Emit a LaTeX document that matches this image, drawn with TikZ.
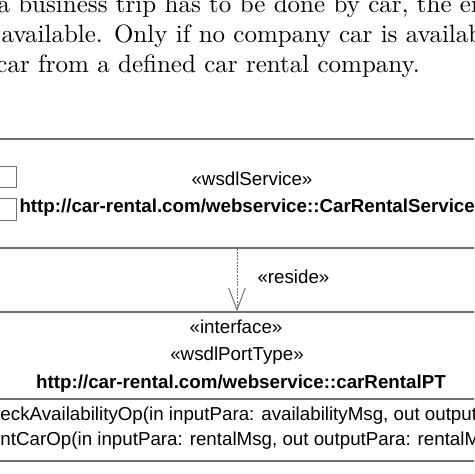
\documentclass[tikz,border=0pt]{standalone}
\usepackage{fontspec}
\newfontfamily\diag{Liberation Sans}
\usetikzlibrary{arrows.meta}
\definecolor{linegray}{HTML}{707070}
\tikzset{
  prose/.style={anchor=base west, inner sep=0pt, font=\fontsize{10}{12}\selectfont},
  uml/.style={inner sep=0pt, font=\diag\fontsize{7.5}{9}\selectfont},
  umlbold/.style={inner sep=0pt, font=\diag\bfseries\fontsize{7.5}{9}\selectfont},
  boxline/.style={draw=linegray, line width=0.5pt},
  dep/.style={draw=linegray, line width=0.4pt, dash pattern=on 0.8pt off 0.5pt,
    -{Straight Barb[length=8.8pt,width=6.6pt,line width=0.4pt]}},
}
\begin{document}
\begin{tikzpicture}[x=0.4pt,y=-0.4pt]
\useasboundingbox (0,0) rectangle (474,474);
\clip (0,0) rectangle (474,474);
% prose text
\node[prose] (p1) at (-3,12) {a business trip has to be done by car, the employee};
\node[prose] (p2) at (1,42) {available. Only if no company car is available};
\node[prose] (p3) at (-4,72) {car from a defined car rental company.};
% service box
\node[boxline, minimum width=208pt, minimum height=43.6pt, inner sep=0pt] (svc) at (237,193.5) {};
\node[boxline, minimum width=12pt, minimum height=8.4pt, inner sep=0pt, anchor=north east] (sq1) at (17,166) {};
\node[boxline, minimum width=12pt, minimum height=8.8pt, inner sep=0pt, anchor=north east] (sq2) at (17,198) {};
\node[uml, anchor=base] (st1) at (252,185) {«wsdlService»};
\node[umlbold, anchor=base west] (sn1) at (19,212) {http://car-rental.com/webservice::CarRentalService};
% interface box
\node[boxline, minimum width=208pt, minimum height=59.6pt, inner sep=0pt] (ifc) at (237,386.5) {};
\coordinate (sepL) at (-30,399);
\coordinate (sepR) at (504,399);
\draw[boxline] (sepL) -- (sepR);
\node[uml, anchor=base] (it1) at (236,333) {«interface»};
\node[uml, anchor=base] (it2) at (237,360) {«wsdlPortType»};
\node[umlbold, anchor=base] (in1) at (241,388) {http://car-rental.com/webservice::carRentalPT};
\node[uml, anchor=base west] (op1) at (0,420) {eckAvailabilityOp(in inputPara: availabilityMsg, out output};
\node[uml, anchor=base west] (op2) at (0,445) {ntCarOp(in inputPara: rentalMsg, out outputPara: rentalM};
% dependency
\draw[dep] (svc.south) -- (ifc.north);
\node[uml, anchor=base west] (res) at (257,283) {«reside»};
\end{tikzpicture}
\end{document}
